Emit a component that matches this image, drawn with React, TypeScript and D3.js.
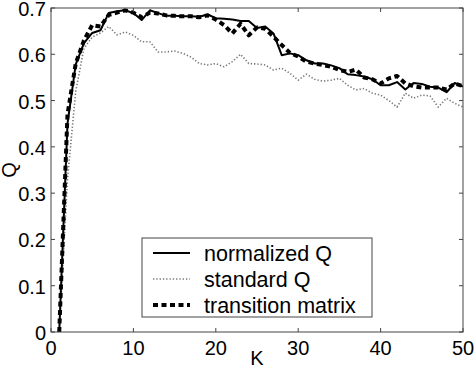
import { useEffect, useRef } from 'react';
import * as d3 from 'd3';

const kValues = d3.range(1, 51);
const normalizedQ = [
  0, 0.45, 0.578, 0.624, 0.646, 0.652, 0.689, 0.693, 0.695, 0.689,
  0.674, 0.695, 0.689, 0.683, 0.683, 0.682, 0.682, 0.681, 0.686, 0.678,
  0.677, 0.675, 0.672, 0.672, 0.657, 0.66, 0.645, 0.598, 0.602, 0.598,
  0.587, 0.58, 0.58, 0.576, 0.57, 0.557, 0.555, 0.552, 0.546, 0.533,
  0.533, 0.54, 0.524, 0.538, 0.536, 0.53, 0.528, 0.518, 0.538, 0.53,
];
const standardQ = [
  0, 0.33, 0.52, 0.613, 0.637, 0.646, 0.66, 0.642, 0.648, 0.641,
  0.627, 0.627, 0.605, 0.605, 0.607, 0.602, 0.594, 0.58, 0.577, 0.58,
  0.573, 0.584, 0.6, 0.58, 0.579, 0.577, 0.566, 0.57, 0.559, 0.544,
  0.557, 0.546, 0.542, 0.544, 0.548, 0.533, 0.523, 0.526, 0.516, 0.512,
  0.5, 0.486, 0.516, 0.505, 0.512, 0.51, 0.486, 0.505, 0.494, 0.486,
];
const transitionQ = [
  0, 0.47, 0.58, 0.63, 0.663, 0.66, 0.685, 0.69, 0.695, 0.69,
  0.68, 0.69, 0.688, 0.684, 0.683, 0.682, 0.682, 0.68, 0.684, 0.675,
  0.663, 0.645, 0.666, 0.641, 0.658, 0.655, 0.638, 0.62, 0.603, 0.595,
  0.584, 0.58, 0.577, 0.573, 0.566, 0.562, 0.567, 0.55, 0.546, 0.537,
  0.548, 0.553, 0.537, 0.531, 0.528, 0.528, 0.528, 0.524, 0.537, 0.531,
];
const xTicks = [0, 10, 20, 30, 40, 50];
const yTicks = [0, 0.1, 0.2, 0.3, 0.4, 0.5, 0.6, 0.7];
const legendLabels = ['normalized Q', 'standard Q', 'transition matrix'];

const W = 474;
const H = 365;
const FONT = '"Liberation Sans", Arial, sans-serif';

export default function App() {
  const svgRef = useRef<SVGSVGElement>(null);

  useEffect(() => {
    if (!svgRef.current) return;
    const svg = d3.select(svgRef.current);
    svg.selectAll('*').remove();

    const margin = { top: 8, right: 11, bottom: 33, left: 51 };
    const iw = W - margin.left - margin.right;
    const ih = H - margin.top - margin.bottom;

    const x = d3.scaleLinear().domain([0, 50]).range([0, iw]);
    const y = d3.scaleLinear().domain([0, 0.7]).range([ih, 0]);

    const g = svg.append('g').attr('transform', `translate(${margin.left},${margin.top})`);

    const defs = svg.append('defs');
    defs.append('clipPath').attr('id', 'plot-clip')
      .append('rect').attr('x', 0).attr('y', 0).attr('width', iw).attr('height', ih);

    const series = [
      { values: standardQ, stroke: '#777', width: 1.6, dash: '1.3,2' },
      { values: transitionQ, stroke: '#000', width: 4, dash: '5,3.5' },
      { values: normalizedQ, stroke: '#000', width: 2, dash: null },
    ];

    const line = d3.line<number>()
      .x((_, i) => x(kValues[i]))
      .y(d => y(d));

    const plot = g.append('g').attr('clip-path', 'url(#plot-clip)');
    series.forEach(s => {
      plot.append('path')
        .datum(s.values)
        .attr('fill', 'none')
        .attr('stroke', s.stroke)
        .attr('stroke-width', s.width)
        .attr('stroke-dasharray', s.dash)
        .attr('stroke-linejoin', 'round')
        .attr('d', line);
    });

    // box + inward ticks on all four sides
    const axisColor = '#444';
    g.append('rect')
      .attr('width', iw).attr('height', ih)
      .attr('fill', 'none').attr('stroke', axisColor).attr('stroke-width', 1);

    const tickLen = 4;
    xTicks.forEach(t => {
      g.append('line').attr('x1', x(t)).attr('x2', x(t)).attr('y1', ih).attr('y2', ih - tickLen)
        .attr('stroke', axisColor);
      g.append('line').attr('x1', x(t)).attr('x2', x(t)).attr('y1', 0).attr('y2', tickLen)
        .attr('stroke', axisColor);
      g.append('text')
        .attr('x', x(t)).attr('y', ih + 23)
        .attr('text-anchor', 'middle')
        .style('font-family', FONT).style('font-size', '20px')
        .text(t);
    });
    yTicks.forEach(t => {
      g.append('line').attr('x1', 0).attr('x2', tickLen).attr('y1', y(t)).attr('y2', y(t))
        .attr('stroke', axisColor);
      g.append('line').attr('x1', iw).attr('x2', iw - tickLen).attr('y1', y(t)).attr('y2', y(t))
        .attr('stroke', axisColor);
      g.append('text')
        .attr('x', -5).attr('y', y(t) + 8)
        .attr('text-anchor', 'end')
        .style('font-family', FONT).style('font-size', '20px')
        .text(t === 0 ? '0' : d3.format('.1f')(t));
    });

    g.append('text')
      .attr('x', 206).attr('y', ih + 33)
      .attr('text-anchor', 'middle')
      .style('font-family', FONT).style('font-size', '20px')
      .text('K');
    g.append('text')
      .attr('transform', `translate(${-35},${162}) rotate(-90)`)
      .attr('text-anchor', 'middle')
      .style('font-family', FONT).style('font-size', '20px')
      .text('Q');

    // legend
    const lg = svg.append('g').attr('transform', 'translate(142,238)');
    lg.append('rect').attr('width', 230).attr('height', 79)
      .attr('fill', '#fff').attr('stroke', axisColor).attr('stroke-width', 1);
    const legendStyles = [series[2], series[0], series[1]];
    legendLabels.forEach((label, i) => {
      const cy = 15 + i * 26;
      const s = legendStyles[i];
      lg.append('line')
        .attr('x1', 11).attr('x2', 48).attr('y1', cy).attr('y2', cy)
        .attr('stroke', s.stroke).attr('stroke-width', s.width)
        .attr('stroke-dasharray', s.dash);
      lg.append('text')
        .attr('x', 62).attr('y', cy + 8)
        .style('font-family', FONT).style('font-size', '21.5px')
        .text(label);
    });
  }, []);

  return (
    <svg ref={svgRef} width={W} height={H}
      style={{ position: 'absolute', left: 0, top: 0, background: '#fff' }} />
  );
}
